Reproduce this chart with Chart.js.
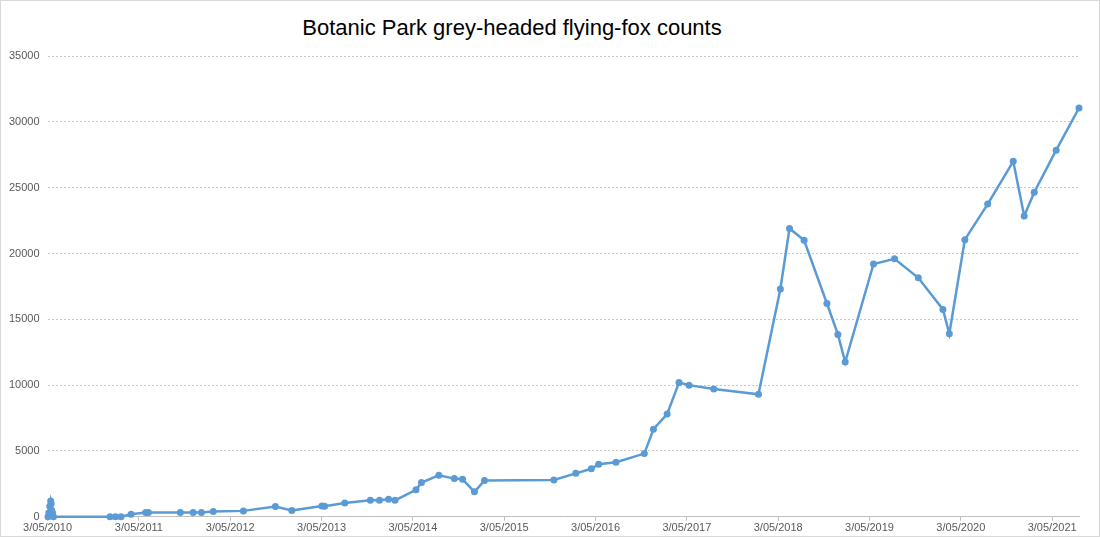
<!DOCTYPE html>
<html>
<head>
<meta charset="utf-8">
<script src="https://cdn.jsdelivr.net/npm/chart.js"></script>
<style>
  body { margin: 0; background: #fff; }
  #wrap { position: relative; width: 1098px; height: 535px; border: 1px solid #d9d9d9; }
  #title { position: absolute; left: 0; width: 1022px; top: 14px; text-align: center;
           font: 22px "Liberation Sans", Arial, sans-serif; color: #000; }
  canvas { position: absolute; left: 0; top: 0; }
</style>
</head>
<body>
<div id="wrap">
  <div id="title">Botanic Park grey-headed flying-fox counts</div>
  <canvas id="c" width="1098" height="535"></canvas>
</div>
<script>
// survey dates as decimal years, counts
const surveyDates = [
  2010.34, 2010.35, 2010.36, 2010.37, 2010.375, 2010.38, 2010.39, 2010.40,
  2011.02, 2011.08, 2011.14, 2011.25, 2011.41, 2011.44, 2011.79, 2011.93, 2012.02, 2012.15,
  2012.48, 2012.83, 2013.01, 2013.34, 2013.37, 2013.59, 2013.87, 2013.97, 2014.07, 2014.14,
  2014.37, 2014.43, 2014.62, 2014.79, 2014.88, 2015.01, 2015.12, 2015.88, 2016.12, 2016.29,
  2016.37, 2016.56, 2016.87, 2016.97, 2017.12, 2017.25, 2017.36, 2017.63, 2018.12, 2018.36,
  2018.46, 2018.62, 2018.87, 2018.99, 2019.07, 2019.38, 2019.61, 2019.87, 2020.14, 2020.21,
  2020.38, 2020.63, 2020.91, 2021.03, 2021.14, 2021.38, 2021.63
];
const counts = [
  0, 300, 800, 1200, 1000, 500, 300, 0,
  0, 0, 10, 200, 320, 320, 320, 320, 320, 400,
  450, 780, 480, 820, 800, 1050, 1250, 1250, 1330, 1250,
  2050, 2600, 3150, 2900, 2850, 1900, 2750, 2800, 3300, 3650,
  4000, 4150, 4800, 6650, 7800, 10200, 10000, 9700, 9300, 17300,
  21900, 21000, 16200, 13850, 11750, 19200, 19600, 18150, 15750, 13900,
  21050, 23750, 27000, 22850, 24650, 27850, 31050
];
const tickYears = [2010, 2011, 2012, 2013, 2014, 2015, 2016, 2017, 2018, 2019, 2020, 2021];
const tickOffset = 0.336; // 3 May as a fraction of the year

const points = surveyDates.map((x, i) => ({ x: x, y: counts[i] }));
const blue = '#5b9bd5';

new Chart(document.getElementById('c'), {
  type: 'scatter',
  data: {
    datasets: [{
      data: points,
      showLine: true,
      clip: false,
      borderColor: blue,
      backgroundColor: blue,
      borderWidth: 2.5,
      pointRadius: 3.5,
      pointBorderWidth: 0
    }]
  },
  options: {
    responsive: false,
    animation: false,
    layout: { padding: { top: 55, right: 20, left: 0, bottom: 0 } },
    plugins: { legend: { display: false }, tooltip: { enabled: false } },
    scales: {
      x: {
        type: 'linear',
        min: tickYears[0] + tickOffset,
        max: 2021.63,
        afterBuildTicks: (axis) => { axis.ticks = tickYears.map(y => ({ value: y + tickOffset })); },
        ticks: {
          color: '#595959',
          font: { size: 11, family: 'Liberation Sans' },
          maxRotation: 0,
          autoSkip: false,
          padding: 1,
          callback: (v) => '3/05/' + Math.floor(v)
        },
        grid: { drawOnChartArea: false, color: '#bfbfbf', tickLength: 4 },
        border: { color: '#bfbfbf' }
      },
      y: {
        min: 0,
        max: 35000,
        ticks: { stepSize: 5000, color: '#595959', font: { size: 11, family: 'Liberation Sans' }, padding: 8,
                 callback: (v) => String(v) },
        grid: { color: '#c8c8c8', drawTicks: false },
        border: { display: false, dash: [2, 2] }
      }
    }
  }
});
</script>
</body>
</html>
